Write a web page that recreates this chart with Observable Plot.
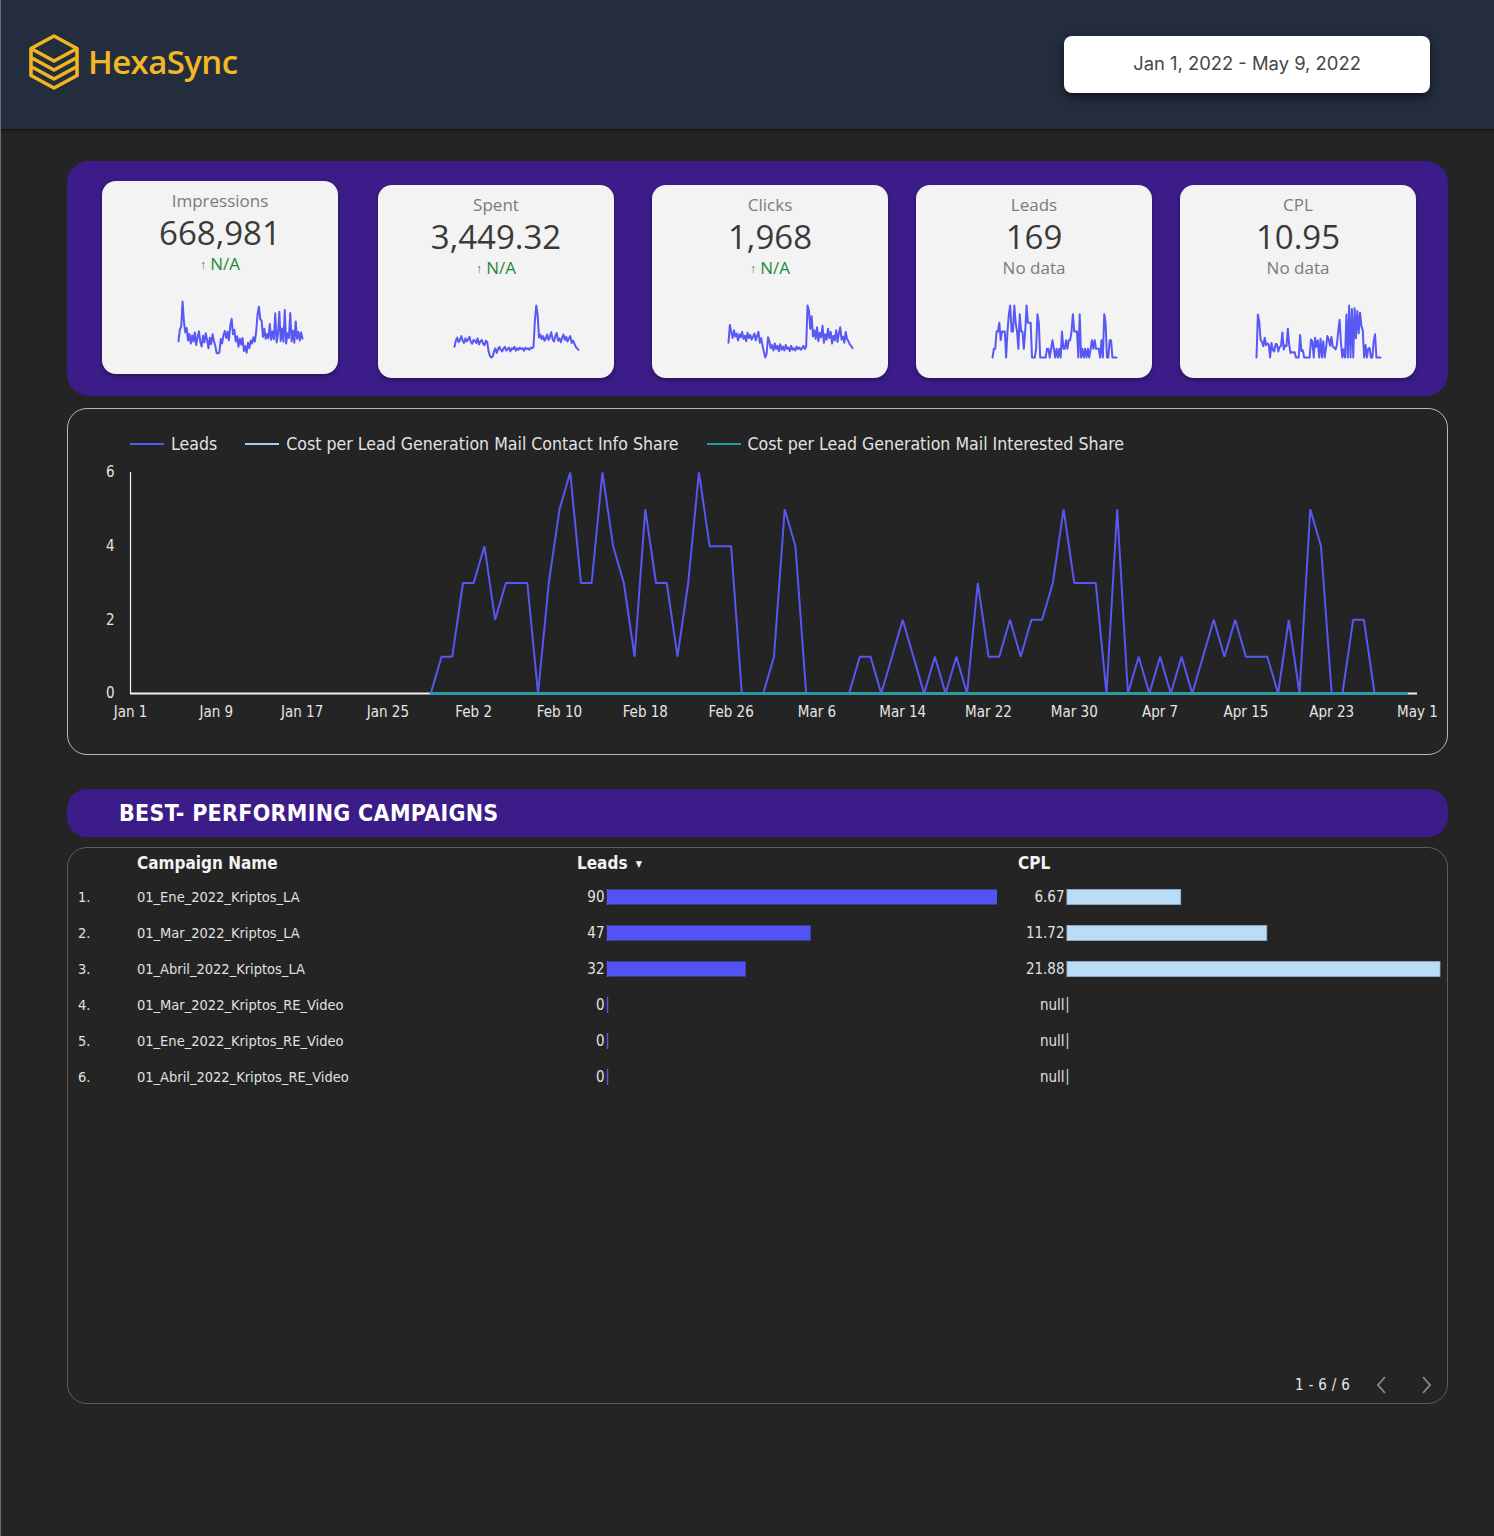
<!DOCTYPE html>
<html>
<head>
<meta charset="utf-8">
<script src="https://cdn.jsdelivr.net/npm/d3@7"></script>
<script src="https://cdn.jsdelivr.net/npm/@observablehq/plot@0.6"></script>
<style>
  html, body { margin: 0; padding: 0; }
  body {
    width: 1494px; height: 1536px; position: relative; overflow: hidden;
    background: #242424; font-family: "Open Sans", "Noto Sans", sans-serif;
    border-left: 1px solid #6a6a72; box-sizing: border-box;
  }
  .abs { position: absolute; }
  .cond { font-family: "DejaVu Sans Condensed", "Open Sans", sans-serif; font-stretch: condensed; }
  #header { left: 0; top: 0; width: 1494px; height: 129px; background: #232d3e; box-shadow: 0 1px 2px rgba(0,0,0,0.6); }
  #brand { left: 87px; top: 38px; font-size: 33px; font-weight: 600; color: #f2b824; letter-spacing: -0.6px; line-height: 48px; }
  #dates { left: 1063px; top: 36px; width: 366px; height: 57px; background: #fff; border-radius: 8px;
           box-shadow: 0 4px 10px rgba(0,0,0,0.55); font-family: "Inter", "Lato", sans-serif; font-size: 18.4px;
           color: #474747; text-align: center; line-height: 55px; }
  #kpiband { left: 66px; top: 161px; width: 1381px; height: 235px; background: #3c1c88; border-radius: 22px; }
  .card { background: #f3f3f3; border-radius: 14px; width: 236px; height: 193px; box-shadow: 0 2px 4px rgba(0,0,0,0.35); }
  .card .lbl { position: absolute; left: 0; width: 100%; top: 10px; text-align: center; font-size: 17px; line-height: 20px; color: #7b7b7b; }
  .card .val { position: absolute; left: 0; width: 100%; top: 34px; text-align: center; font-size: 33px; line-height: 36px; color: #3a3a3a; }
  .card .dlt { position: absolute; left: 0; width: 100%; top: 74px; text-align: center; font-size: 17px; line-height: 18px; }
  .card .spark { position: absolute; left: 74px; top: 118px; }
  #chartpanel { left: 66px; top: 408px; width: 1381px; height: 347px; border: 1.5px solid #b9b9b9; border-radius: 20px; box-sizing: border-box; }
  #legend { left: 129px; top: 432px; height: 24px; display: flex; align-items: center; font-size: 17.6px; color: #e2e2e2; white-space: nowrap; }
  #legend .item { display: flex; align-items: center; margin-right: 28px; }
  #legend .sw { width: 34px; height: 2.5px; margin-right: 7px; }
  #tabletitle { left: 66px; top: 789px; width: 1381px; height: 48px; background: #3c1c88; border-radius: 20px; }
  #tabletitle span { position: absolute; left: 52px; top: 0; line-height: 48px; color: #fff; font-size: 23px; font-weight: 700; letter-spacing: 0.3px; }
  #tablepanel { left: 66px; top: 847px; width: 1381px; height: 557px; border: 1.5px solid #5e5e5e; border-radius: 20px; box-sizing: border-box; }
  .th { font-size: 17px; font-weight: 700; color: #f2f2f2; line-height: 24px; }
  .td { font-size: 14.5px; color: #e0e0e0; line-height: 24px; }
  #pager { left: 1294px; top: 1374px; font-size: 15px; color: #e6e6e6; line-height: 22px; letter-spacing: 0.3px; }
</style>
</head>
<body>
<div id="header" class="abs">
  <svg class="abs" style="left:28px;top:33px" width="52" height="58" viewBox="0 0 52 58">
    <g fill="none" stroke="#f0b51f" stroke-width="3.6" stroke-linejoin="round">
      <polygon points="25,3 48,15.5 48,42.5 25,55 2,42.5 2,15.5"/>
      <polyline points="2,15.5 25,28 48,15.5"/>
      <polyline points="3,25 25,37 47,25"/>
      <polyline points="3,34 25,46 47,34"/>
    </g>
  </svg>
  <div id="brand" class="abs">HexaSync</div>
  <div id="dates" class="abs">Jan 1, 2022 - May 9, 2022</div>
</div>

<div id="kpiband" class="abs"></div>
<div id="cards"></div>

<div id="chartpanel" class="abs"></div>
<div id="legend" class="abs cond"></div>
<div id="chart" class="abs" style="left:66px;top:460px"></div>

<div id="tabletitle" class="abs"><span class="cond">BEST- PERFORMING CAMPAIGNS</span></div>
<div id="tablepanel" class="abs"></div>
<div id="tablehead"></div>
<div id="tablerows"></div>
<div id="leadsbars" class="abs" style="left:560px;top:879px"></div>
<div id="cplbars" class="abs" style="left:1000px;top:879px"></div>
<div id="pager" class="abs cond">1 - 6 / 6</div>
<svg class="abs" style="left:1372px;top:1375px" width="62" height="20">
  <g fill="none" stroke="#8a8a8a" stroke-width="1.8">
    <polyline points="12,2 5,10 12,18"/>
    <polyline points="50,2 57,10 50,18"/>
  </g>
</svg>

<script>
// ---- Series: daily values from Jan 29, 2022 to Apr 30, 2022 ----
const seriesStart = "2022-01-29";
const seriesEnd = "2022-04-30";

const leadsDaily = [
  0,1,1,3,3,4,2,3,3,3,
  0,3,5,6,3,3,6,4,3,1,
  5,3,3,1,3,6,4,4,4,0,
  0,0,1,5,4,0,0,0,0,0,
  1,1,0,1,2,1,0,1,0,1,
  0,3,1,1,2,1,2,2,3,5,
  3,3,3,0,5,0,1,0,1,0,
  1,0,1,2,1,2,1,1,1,0,
  2,0,5,4,0,0,2,2,0,0,
  0,0
];

const interestedShareDaily = [
  0,0,0,0,0,0,0,0,0,0,
  0,0,0,0,0,0,0,0,0,0,
  0,0,0,0,0,0,0,0,0,0,
  0,0,0,0,0,0,0,0,0,0,
  0,0,0,0,0,0,0,0,0,0,
  0,0,0,0,0,0,0,0,0,0,
  0,0,0,0,0,0,0,0,0,0,
  0,0,0,0,0,0,0,0,0,0,
  0,0,0,0,0,0,0,0,0,0,
  0,0
];

const impressionsDaily = [
  6200,9400,10200,17000,11500,8600,9800,6400,8200,5600,
  7800,6100,8600,5200,7400,8900,6000,4800,7700,5900,
  8400,6600,4300,7200,5400,8100,6300,5000,3000,2900,
  3200,6800,5600,7900,9000,7100,8800,6500,10400,12300,
  8100,9300,6200,7600,4700,6900,5300,7100,3600,4900,
  3100,5800,4400,6400,5600,7300,6100,8800,13400,15600,
  12200,11800,7400,9600,6900,8200,7000,10900,6600,8900,
  6800,13800,5900,8100,14200,6300,9700,6100,14700,5600,
  8400,7100,13900,6200,9100,5800,11600,6900,8800,6400,
  8600,6900
];

const spentDaily = [
  36,44,48,42,45,50,44,41,47,43,
  46,49,42,40,45,44,41,47,39,43,
  45,40,38,44,42,30,24,22,23,30,
  34,28,33,36,32,30,34,36,31,33,
  35,30,34,33,36,31,34,32,35,33,
  34,31,35,33,34,32,35,34,36,70,
  90,78,48,52,46,50,44,47,52,45,
  49,55,46,43,50,54,44,47,42,48,
  52,45,49,43,47,50,41,44,40,36,
  34,32
];

const clicksDaily = [
  22,45,36,28,38,30,34,25,33,29,
  36,27,31,24,35,28,32,26,30,34,
  25,31,36,22,28,18,10,3,8,29,
  24,15,19,12,21,14,18,11,20,13,
  17,12,19,14,16,11,18,13,15,12,
  17,14,16,13,15,18,14,17,70,64,
  40,56,30,38,27,42,24,35,29,44,
  22,33,26,40,28,36,21,31,25,38,
  23,34,42,26,30,22,36,27,24,20,
  18,15
];

const cplDaily = [
  0,48,40,20,17,12.5,22,13.7,15.7,14.3,
  0,16.3,8.4,6.7,15,14.7,6.8,11.8,13,28,
  9,13.3,12.7,32,14,5,6,5.5,5.8,0,
  0,0,25,7.2,8,0,0,0,0,0,
  20,18,0,22,12,19,0,21,0,18,
  0,10.3,24,20,13,23,12,11,9,14,
  30,42,16,0,9.2,0,48,0,58,0,
  54,0,55,21.5,52,27,50,35,30,0,
  14,0,9.8,10.8,0,0,18,26,0,0,
  0,0
];

// ---- Scorecards ----
const kpiLabels = ["Impressions", "Spent", "Clicks", "Leads", "CPL"];
const kpiValues = [668981, 3449.32, 1968, 169, 10.95];
const kpiFormats = [",d", ",.2f", ",d", ",d", ",.2f"];
const kpiChanges = ["N/A", "N/A", "N/A", null, null];
const kpiSparks = [impressionsDaily, spentDaily, clicksDaily, leadsDaily, cplDaily];

// ---- Time-series chart ----
const legendLabels = ["Leads", "Cost per Lead Generation Mail Contact Info Share", "Cost per Lead Generation Mail Interested Share"];
const xTickLabels = ["Jan 1","Jan 9","Jan 17","Jan 25","Feb 2","Feb 10","Feb 18","Feb 26","Mar 6","Mar 14","Mar 22","Mar 30","Apr 7","Apr 15","Apr 23","May 1"];
const yTicks = [0, 2, 4, 6];

// ---- Campaign table ----
const campaigns = ["01_Ene_2022_Kriptos_LA", "01_Mar_2022_Kriptos_LA", "01_Abril_2022_Kriptos_LA",
                   "01_Mar_2022_Kriptos_RE_Video", "01_Ene_2022_Kriptos_RE_Video", "01_Abril_2022_Kriptos_RE_Video"];
const campaignLeads = [90, 47, 32, 0, 0, 0];
const campaignCPL = [6.67, 11.72, 21.88, null, null, null];

// ================= drawing =================
const COND = '"DejaVu Sans Condensed", "Open Sans", sans-serif';
const parseDay = d3.utcParse("%Y-%m-%d");
const dates = d3.utcDay.range(parseDay(seriesStart), d3.utcDay.offset(parseDay(seriesEnd), 1));

// Scorecards with sparklines
const cardBox = [[101, 181], [377, 185], [651, 185], [915, 185], [1179, 185]];
const cardsEl = document.getElementById("cards");
kpiLabels.forEach((label, i) => {
  const card = document.createElement("div");
  card.className = "abs card";
  card.style.left = cardBox[i][0] + "px";
  card.style.top = cardBox[i][1] + "px";
  const change = kpiChanges[i];
  card.innerHTML =
    `<div class="lbl">${label}</div>` +
    `<div class="val">${d3.format(kpiFormats[i])(kpiValues[i])}</div>` +
    (change
      ? `<div class="dlt" style="color:#1e8a3c"><span style="font-size:12px;font-weight:700;position:relative;top:-1px">&#x2191;</span> ${change}</div>`
      : `<div class="dlt" style="color:#7b7b7b">No data</div>`);
  const spark = Plot.plot({
    width: 128, height: 56, margin: 2, axis: null,
    style: { background: "transparent", overflow: "visible" },
    x: { type: "utc" },
    y: { zero: false },
    marks: [
      Plot.line(dates.map((d, j) => ({ date: d, v: kpiSparks[i][j] })),
        { x: "date", y: "v", stroke: "#5858f5", strokeWidth: 2, strokeLinejoin: "round" })
    ]
  });
  const holder = document.createElement("div");
  holder.className = "spark";
  holder.appendChild(spark);
  card.appendChild(holder);
  cardsEl.appendChild(card);
});

// Legend
const seriesColors = ["#5757f2", "#a9cdf2", "#1e9ea4"];
const legendEl = document.getElementById("legend");
legendLabels.forEach((label, i) => {
  const item = document.createElement("div");
  item.className = "item";
  item.innerHTML = `<div class="sw" style="background:${seriesColors[i]}"></div><span>${label}</span>`;
  legendEl.appendChild(item);
});

// Line chart
const parseTick = d3.utcParse("%b %d %Y");
const xTicks = xTickLabels.map(s => parseTick(s + " 2022"));
const mainData = dates.map((d, j) => ({ date: d, leads: leadsDaily[j], share: interestedShareDaily[j] }));
const chart = Plot.plot({
  width: 1381, height: 280,
  marginLeft: 63, marginRight: 31, marginTop: 12, marginBottom: 47,
  style: { background: "transparent", color: "#e4e4e4", fontSize: "15px", fontFamily: COND, overflow: "visible" },
  x: { type: "utc", domain: [xTicks[0], xTicks[xTicks.length - 1]], ticks: xTicks,
       tickFormat: d3.utcFormat("%b %-d"), tickSize: 0, tickPadding: 13, label: null },
  y: { domain: [0, 6], ticks: yTicks, tickFormat: d3.format("d"), tickSize: 0, tickPadding: 16, label: null },
  marks: [
    Plot.ruleX([xTicks[0]], { y1: 0, y2: 6, stroke: "#f4f4f4", strokeWidth: 1.2 }),
    Plot.ruleY([0], { stroke: "#f4f4f4", strokeWidth: 2 }),
    Plot.line(mainData, { x: "date", y: "leads", stroke: seriesColors[0], strokeWidth: 2, strokeLinejoin: "miter" }),
    Plot.line(mainData, { x: "date", y: "share", stroke: seriesColors[2], strokeWidth: 2.5 })
  ]
});
document.getElementById("chart").appendChild(chart);

// Table header & rows
const headEl = document.getElementById("tablehead");
headEl.innerHTML =
  `<div class="abs th cond" style="left:136px;top:851px">Campaign Name</div>` +
  `<div class="abs th cond" style="left:576px;top:851px">Leads <span style="font-size:9px;position:relative;top:-2px;margin-left:3px">&#x25BC;</span></div>` +
  `<div class="abs th cond" style="left:1017px;top:851px">CPL</div>`;
const rowsEl = document.getElementById("tablerows");
campaigns.forEach((name, i) => {
  const top = 885 + i * 36;
  rowsEl.insertAdjacentHTML("beforeend",
    `<div class="abs td cond" style="left:77px;top:${top}px">${i + 1}.</div>` +
    `<div class="abs td cond" style="left:136px;top:${top}px">${name}</div>`);
});

const rows = campaigns.map((name, i) => ({ name, leads: campaignLeads[i], cpl: campaignCPL[i] }));
const tableStyle = { background: "transparent", color: "#e0e0e0", fontSize: "15px", fontFamily: COND, overflow: "visible" };

const leadsBars = Plot.plot({
  width: 450, height: 216, marginLeft: 46, marginRight: 14, marginTop: 0, marginBottom: 0,
  style: tableStyle,
  x: { domain: [0, d3.max(campaignLeads)], axis: null },
  y: { domain: campaigns, axis: null, padding: 0 },
  marks: [
    Plot.tickX(rows, { x: () => 0, y: "name", stroke: "#5252ee", strokeWidth: 1.5, insetTop: 10, insetBottom: 10 }),
    Plot.barX(rows, { x: "leads", y: "name", fill: "#5353f5", insetTop: 10.5, insetBottom: 10.5 }),
    Plot.text(rows, { x: () => 0, y: "name", text: d => String(d.leads), textAnchor: "end", dx: -3, fill: "#e0e0e0" })
  ]
});
document.getElementById("leadsbars").appendChild(leadsBars);

const cplBars = Plot.plot({
  width: 447, height: 216, marginLeft: 66, marginRight: 8, marginTop: 0, marginBottom: 0,
  style: tableStyle,
  x: { domain: [0, d3.max(campaignCPL)], axis: null },
  y: { domain: campaigns, axis: null, padding: 0 },
  marks: [
    Plot.tickX(rows, { x: () => 0, y: "name", stroke: "#9fbcd6", strokeWidth: 1.5, insetTop: 10, insetBottom: 10 }),
    Plot.barX(rows.filter(d => d.cpl != null), { x: "cpl", y: "name", fill: "#b9dcf8", stroke: "#8fb0cc", strokeWidth: 0.8, insetTop: 10.5, insetBottom: 10.5 }),
    Plot.text(rows, { x: () => 0, y: "name", text: d => d.cpl == null ? "null" : d3.format(".2f")(d.cpl), textAnchor: "end", dx: -3, fill: "#e0e0e0" })
  ]
});
document.getElementById("cplbars").appendChild(cplBars);
</script>
</body>
</html>
